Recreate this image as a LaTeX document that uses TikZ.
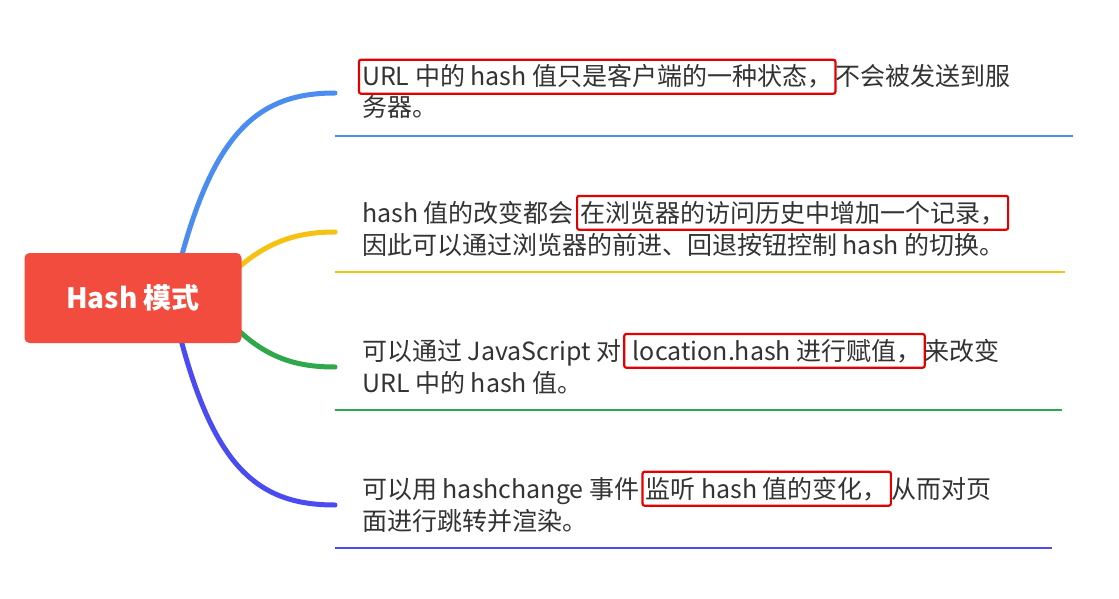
\documentclass[tikz,border=0pt]{standalone}
\usepackage{fontspec}
\setmainfont{Noto Sans CJK SC}
\begin{document}
\begin{tikzpicture}[x=1pt,y=-1pt,
  txt/.style={anchor=base west,inner sep=0,text=black!80,font=\fontsize{25}{29}\selectfont},
  hl/.style={txt,draw=red!90!black,line width=2.2pt,rounded corners=2pt,inner xsep=3pt,inner ysep=5pt,outer sep=0pt},
  br/.style={line width=5pt,line cap=round}]
\useasboundingbox (0,0) rectangle (1119,599);
\fill[white] (0,0) rectangle (1119,599);
\definecolor{cb}{HTML}{4A8CF0}\definecolor{cy}{HTML}{F5C211}
\definecolor{cg}{HTML}{2EA84A}\definecolor{cp}{HTML}{4A4CF2}
% branches
\coordinate (s1) at (180,262); \coordinate (e1) at (335,93);
\coordinate (s2) at (238,268); \coordinate (e2) at (335,232);
\coordinate (s3) at (238,330); \coordinate (e3) at (335,367);
\coordinate (s4) at (180,336); \coordinate (e4) at (335,505);
\draw[br,cb] (s1) .. controls (215,130) and (260,93) .. (e1);
\draw[br,cy] (s2) .. controls (270,240) and (300,232) .. (e2);
\draw[br,cg] (s3) .. controls (270,360) and (300,367) .. (e3);
\draw[br,cp] (s4) .. controls (215,470) and (260,505) .. (e4);
\node[fill={rgb,255:red,242;green,76;blue,62},rounded corners=5pt,minimum width=217,minimum height=90,
  text=white,font=\fontsize{28}{32}\selectfont\bfseries] (c) at (133,298) {Hash 模式};
% underlines
\coordinate (u1a) at (335,136); \coordinate (u1b) at (1073,136);
\coordinate (u2a) at (335,272); \coordinate (u2b) at (1065,272);
\coordinate (u3a) at (335,410); \coordinate (u3b) at (1062,410);
\coordinate (u4a) at (335,548); \coordinate (u4b) at (1052,548);
\draw[cb,line width=2pt] (u1a)--(u1b);
\draw[cy,line width=2pt] (u2a)--(u2b);
\draw[cg,line width=2pt] (u3a)--(u3b);
\draw[cp,line width=2pt] (u4a)--(u4b);
% texts
\node[hl] (h1) at (359,86) {URL 中的 hash 值只是客户端的一种状态，};
\node[txt] (t1a) at (h1.base east) {不会被发送到服};
\node[txt] (t1b) at (362,117) {务器。};
\node[txt] (t2a) at (362,222) {hash 值的改变都会};
\node[hl] (h2) at ([xshift=3pt]t2a.base east) {在浏览器的访问历史中增加一个记录，};
\node[txt] (t2b) at (362,254) {因此可以通过浏览器的前进、回退按钮控制 hash 的切换。};
\node[txt] (t3a) at (362,360) {可以通过 JavaScript 对};
\node[hl] (h3) at ([xshift=3pt]t3a.base east) {~location.hash 进行赋值，};
\node[txt] (t3c) at (h3.base east) {来改变};
\node[txt] (t3b) at (362,392) {URL 中的 hash 值。};
\node[txt] (t4a) at (362,498) {可以用 hashchange 事件};
\node[hl] (h4) at ([xshift=3pt]t4a.base east) {监听 hash 值的变化，};
\node[txt] (t4c) at (h4.base east) {从而对页};
\node[txt] (t4b) at (362,530) {面进行跳转并渲染。};
\end{tikzpicture}
\end{document}
